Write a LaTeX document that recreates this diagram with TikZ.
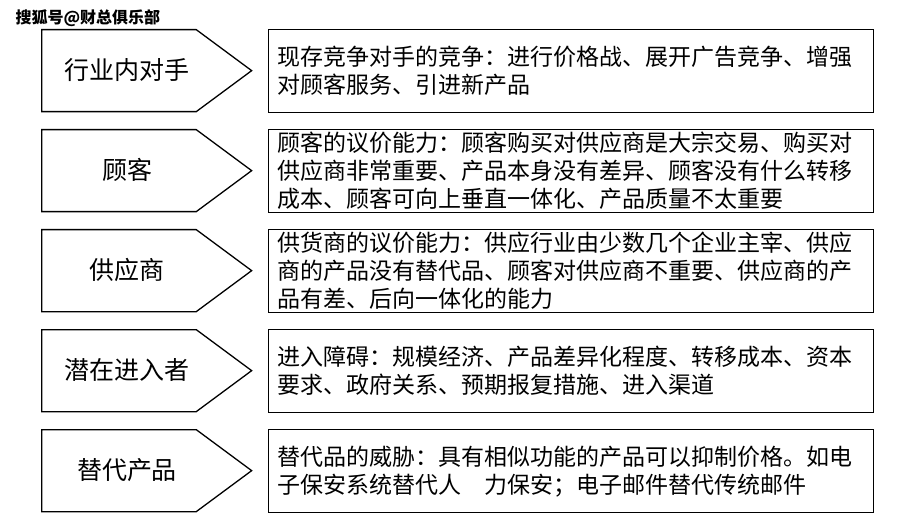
\documentclass[tikz,border=0pt]{standalone}
\usepackage{fontspec}
\setmainfont{Noto Sans CJK SC}
\usetikzlibrary{shapes.symbols, positioning}
\tikzset{
  force_font/.style = {font=\fontsize{25}{30}\selectfont},
  text_font/.style = {font=\fontsize{23}{28}\selectfont},
  force/.style = {signal, signal to=east, signal pointer angle=73, draw, line width=1.3pt,
    minimum width=210, minimum height=82, inner sep=0, anchor=north west},
  force_label/.style = {force_font, anchor=center},
  detail/.style = {text_font, draw, line width=1.3pt, align=left, anchor=north west,
    text width=587, minimum height=83, inner xsep=9, inner ysep=0}
}
\begin{document}
\begin{tikzpicture}[x=1pt, y=-1pt]
    \useasboundingbox (0,0) rectangle (914,532);

    % Watermark
    \node[font=\fontsize{16}{16}\selectfont\bfseries, anchor=west] (mark) at (12,18) {搜狐号@财总俱乐部};

    % Forces
    \node[force] (f_1) at (41,29) {};
    \node[force] (f_2) at (41,129) {};
    \node[force] (f_3) at (41,229) {};
    \node[force] (f_4) at (41,329) {};
    \node[force] (f_5) at (41,429) {};

    \node[force_label] at (127,70) (l_1) {行业内对手};
    \node[force_label] at (127,170) (l_2) {顾客};
    \node[force_label] at (127,270) (l_3) {供应商};
    \node[force_label] at (127,370) (l_4) {潜在进入者};
    \node[force_label] at (127,470) (l_5) {替代产品};

    % Details
    \node[detail] at (268,29) (d_1) {
        现存竞争对手的竞争：进行价格战、展开广告竞争、增强\\
        对顾客服务、引进新产品};
    \node[detail] at (268,129) (d_2) {
        顾客的议价能力：顾客购买对供应商是大宗交易、购买对\\
        供应商非常重要、产品本身没有差异、顾客没有什么转移\\
        成本、顾客可向上垂直一体化、产品质量不太重要};
    \node[detail] at (268,229) (d_3) {
        供货商的议价能力：供应行业由少数几个企业主宰、供应\\
        商的产品没有替代品、顾客对供应商不重要、供应商的产\\
        品有差、后向一体化的能力};
    \node[detail] at (268,329) (d_4) {
        进入障碍：规模经济、产品差异化程度、转移成本、资本\\
        要求、政府关系、预期报复措施、进入渠道};
    \node[detail] at (268,429) (d_5) {
        替代品的威胁：具有相似功能的产品可以抑制价格。如电\\
        子保安系统替代人\quad 力保安；电子邮件替代传统邮件};
\end{tikzpicture}
\end{document}
